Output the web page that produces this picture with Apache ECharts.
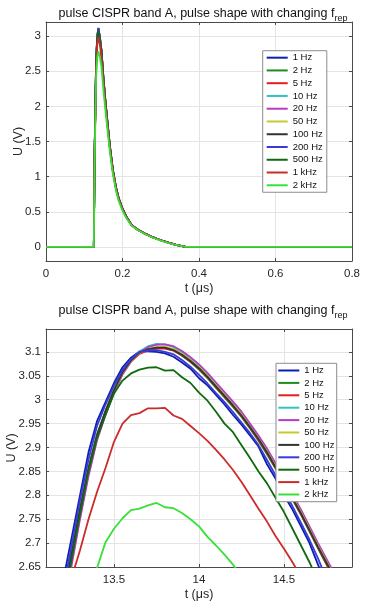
<!DOCTYPE html>
<html><head><meta charset="utf-8">
<script src="https://cdn.jsdelivr.net/npm/echarts@6/dist/echarts.min.js"></script>
<style>html,body{margin:0;padding:0;background:#fff}#c{width:378px;height:603px}</style>
</head><body><div id="c"></div>
<script>
// ---------- legend / series identity ----------
const seriesNames = ['1 Hz','2 Hz','5 Hz','10 Hz','20 Hz','50 Hz','100 Hz','200 Hz','500 Hz','1 kHz','2 kHz'];
const seriesColors = ['#0b1fb0','#1f8a1f','#e41e1e','#2ec4c4','#b93bc4','#c8c832','#333333','#3a3ad8','#0f6a0f','#cc2b2b','#38e038'];

// ---------- top plot (full pulse) ----------
const topTime = [0,0.05,0.1,0.125,0.127,0.131,0.134,0.137,0.141,0.145,0.15,0.155,0.16,0.167,0.175,0.183,0.19,0.2,0.21,0.224,0.24,0.26,0.28,0.3,0.32,0.34,0.365,0.4,0.5,0.6,0.7,0.8];
const top1Hz   = [0,0,0,0,1.30,2.62,2.98,3.100,2.96,2.78,2.40,2.08,1.80,1.42,1.08,0.84,0.69,0.54,0.43,0.31,0.245,0.185,0.135,0.095,0.06,0.03,0.002,0,0,0,0,0];
const top2Hz   = [0,0,0,0,1.31,2.63,2.99,3.108,2.97,2.79,2.41,2.09,1.81,1.43,1.09,0.845,0.69,0.545,0.43,0.31,0.245,0.185,0.135,0.095,0.06,0.03,0.002,0,0,0,0,0];
const top5Hz   = [0,0,0,0,1.29,2.61,2.98,3.107,2.97,2.79,2.41,2.09,1.81,1.43,1.09,0.845,0.69,0.545,0.43,0.31,0.245,0.185,0.135,0.095,0.06,0.03,0.002,0,0,0,0,0];
const top10Hz  = [0,0,0,0,1.31,2.64,3.00,3.117,2.98,2.80,2.42,2.10,1.82,1.44,1.09,0.85,0.695,0.545,0.435,0.31,0.245,0.185,0.135,0.095,0.06,0.03,0.002,0,0,0,0,0];
const top20Hz  = [0,0,0,0,1.30,2.63,3.00,3.116,2.98,2.80,2.42,2.10,1.82,1.44,1.10,0.85,0.695,0.55,0.435,0.315,0.25,0.19,0.135,0.095,0.06,0.03,0.002,0,0,0,0,0];
const top50Hz  = [0,0,0,0,1.31,2.63,2.99,3.110,2.97,2.79,2.41,2.09,1.81,1.43,1.09,0.845,0.69,0.545,0.43,0.31,0.245,0.185,0.135,0.095,0.06,0.03,0.002,0,0,0,0,0];
const top100Hz = [0,0,0,0,1.31,2.63,2.99,3.109,2.97,2.79,2.41,2.09,1.81,1.43,1.09,0.845,0.69,0.545,0.43,0.31,0.245,0.185,0.135,0.095,0.06,0.03,0.002,0,0,0,0,0];
const top200Hz = [0,0,0,0,1.30,2.62,2.98,3.104,2.96,2.78,2.40,2.08,1.80,1.42,1.08,0.84,0.69,0.54,0.43,0.31,0.245,0.185,0.135,0.095,0.06,0.03,0.002,0,0,0,0,0];
const top500Hz = [0,0,0,0,1.28,2.58,2.95,3.068,2.94,2.76,2.38,2.07,1.79,1.42,1.08,0.84,0.685,0.54,0.43,0.31,0.245,0.185,0.135,0.095,0.06,0.03,0.002,0,0,0,0,0];
const top1kHz  = [0,0,0,0,1.25,2.52,2.88,2.983,2.87,2.70,2.34,2.04,1.77,1.40,1.07,0.83,0.68,0.535,0.425,0.305,0.245,0.185,0.135,0.095,0.06,0.03,0.002,0,0,0,0,0];
const top2kHz  = [0,0,0,0,1.18,2.40,2.70,2.784,2.70,2.56,2.24,1.96,1.70,1.35,1.03,0.80,0.655,0.515,0.41,0.30,0.24,0.18,0.13,0.09,0.055,0.028,0,0,0,0,0,0];
const topSeries = [top1Hz,top2Hz,top5Hz,top10Hz,top20Hz,top50Hz,top100Hz,top200Hz,top500Hz,top1kHz,top2kHz];
const topXTicks = [0,0.2,0.4,0.6,0.8];
const topYTicks = [0,0.5,1,1.5,2,2.5,3];

// ---------- bottom plot (peak detail) ----------
const botTime = [13.15,13.2,13.25,13.3,13.35,13.4,13.45,13.5,13.55,13.6,13.65,13.7,13.75,13.8,13.85,13.9,13.95,14.0,14.05,14.1,14.15,14.2,14.25,14.3,14.35,14.4,14.45,14.5,14.55,14.6,14.65,14.7,14.75,14.8,14.85];
const bot1Hz   = [2.55,2.62,2.71,2.80,2.89,2.955,2.995,3.035,3.068,3.088,3.101,3.101,3.100,3.097,3.090,3.078,3.065,3.045,3.030,3.010,2.990,2.968,2.948,2.925,2.902,2.865,2.835,2.800,2.770,2.735,2.700,2.655,2.610,2.570,2.530];
const bot2Hz   = [2.505,2.59,2.68,2.772,2.857,2.927,2.977,3.021,3.057,3.082,3.098,3.105,3.108,3.108,3.103,3.092,3.079,3.063,3.045,3.025,3.005,2.985,2.964,2.940,2.914,2.886,2.856,2.824,2.791,2.759,2.724,2.689,2.655,2.621,2.585];
const bot5Hz   = [2.48,2.57,2.66,2.755,2.845,2.918,2.970,3.016,3.054,3.080,3.096,3.103,3.107,3.107,3.103,3.093,3.080,3.065,3.047,3.027,3.007,2.987,2.966,2.942,2.916,2.889,2.858,2.826,2.793,2.761,2.726,2.691,2.657,2.622,2.585];
const bot10Hz  = [2.49,2.578,2.668,2.764,2.850,2.922,2.973,3.018,3.057,3.083,3.101,3.112,3.117,3.116,3.110,3.099,3.085,3.070,3.052,3.032,3.012,2.992,2.972,2.947,2.922,2.895,2.864,2.832,2.799,2.767,2.732,2.697,2.664,2.630,2.592];
const bot20Hz  = [2.47,2.56,2.652,2.750,2.840,2.915,2.968,3.014,3.053,3.080,3.099,3.110,3.115,3.116,3.112,3.102,3.089,3.074,3.056,3.036,3.016,2.996,2.975,2.950,2.925,2.898,2.867,2.835,2.802,2.770,2.735,2.700,2.667,2.634,2.596];
const bot50Hz  = [2.495,2.582,2.672,2.768,2.853,2.924,2.974,3.019,3.056,3.081,3.098,3.106,3.110,3.111,3.106,3.096,3.083,3.068,3.050,3.030,3.010,2.990,2.969,2.944,2.919,2.892,2.861,2.829,2.796,2.764,2.729,2.694,2.661,2.627,2.590];
const bot100Hz = [2.50,2.586,2.676,2.771,2.856,2.926,2.976,3.020,3.057,3.082,3.099,3.106,3.109,3.109,3.104,3.094,3.081,3.066,3.048,3.028,3.008,2.988,2.967,2.943,2.918,2.890,2.859,2.827,2.794,2.762,2.727,2.692,2.659,2.625,2.588];
const bot200Hz = [2.53,2.60,2.695,2.79,2.875,2.945,2.990,3.030,3.062,3.085,3.100,3.103,3.104,3.100,3.095,3.083,3.069,3.052,3.034,3.014,2.995,2.974,2.952,2.930,2.905,2.874,2.842,2.808,2.777,2.742,2.707,2.668,2.625,2.585,2.545];
const bot500Hz = [2.48,2.57,2.665,2.76,2.85,2.92,2.968,3.013,3.040,3.055,3.063,3.067,3.068,3.061,3.062,3.047,3.035,3.015,2.998,2.975,2.950,2.932,2.905,2.878,2.850,2.825,2.795,2.765,2.730,2.695,2.660,2.620,2.580,2.540,2.500];
const bot1kHz  = [2.51,2.57,2.627,2.685,2.75,2.807,2.857,2.912,2.950,2.968,2.972,2.982,2.982,2.983,2.967,2.960,2.945,2.930,2.914,2.895,2.875,2.853,2.828,2.800,2.772,2.745,2.715,2.688,2.660,2.630,2.600,2.570,2.540,2.510,2.480];
const bot2kHz  = [2.30,2.36,2.42,2.48,2.59,2.648,2.702,2.730,2.752,2.769,2.772,2.779,2.784,2.775,2.773,2.763,2.750,2.735,2.713,2.695,2.676,2.655,2.630,2.600,2.570,2.540,2.510,2.480,2.450,2.420,2.390,2.360,2.330,2.300,2.270];
const botSeries = [bot1Hz,bot2Hz,bot5Hz,bot10Hz,bot20Hz,bot50Hz,bot100Hz,bot200Hz,bot500Hz,bot1kHz,bot2kHz];
const botXTicks = [13.5,14,14.5];
const botYTicks = [2.65,2.7,2.75,2.8,2.85,2.9,2.95,3,3.05,3.1];

// ---------- styling ----------
const FONT = '"Liberation Sans", Arial, sans-serif';
const TXT = '#262626';
const AXC = '#4a4a4a';
const GRIDC = '#e4e4e4';
const fmt = v => String(parseFloat((+v).toFixed(3)));

function mainAxis(kind, grid, pos, min, max, ticks, name, nameGap) {
  return {
    type: 'value', gridIndex: grid, position: pos, min: min, max: max,
    name: name, nameLocation: 'middle', nameGap: nameGap, nameMoveOverlap: false,
    nameTextStyle: {fontFamily: FONT, fontSize: 12.5, color: TXT},
    axisLine: {show: true, onZero: false, lineStyle: {color: AXC, width: 1}},
    axisTick: {show: true, inside: true, length: 3, customValues: ticks, lineStyle: {color: AXC}},
    axisLabel: {show: true, customValues: ticks, formatter: fmt, margin: kind === 'x' ? 7 : 5,
      fontFamily: FONT, fontSize: 11.5, color: TXT, showMinLabel: true, showMaxLabel: true},
    splitLine: {show: true, lineStyle: {color: GRIDC, width: 1}}
  };
}
function mirrorAxis(grid, pos, min, max, ticks) {
  return {
    type: 'value', gridIndex: grid, position: pos, min: min, max: max,
    axisLine: {show: true, onZero: false, lineStyle: {color: AXC, width: 1}},
    axisTick: {show: true, inside: true, length: 3, customValues: ticks, lineStyle: {color: AXC}},
    axisLabel: {show: false},
    splitLine: {show: false}
  };
}

const series = [];
seriesNames.forEach((n, i) => {
  series.push({
    name: n, type: 'line', xAxisIndex: 0, yAxisIndex: 0, showSymbol: false, symbol: 'none',
    data: topTime.map((t, k) => [t, topSeries[i][k]]),
    lineStyle: {width: 1.8, color: seriesColors[i]}, itemStyle: {color: seriesColors[i]},
    animation: false, clip: true
  });
});
seriesNames.forEach((n, i) => {
  series.push({
    name: n, type: 'line', xAxisIndex: 2, yAxisIndex: 2, showSymbol: false, symbol: 'none',
    data: botTime.map((t, k) => [t, botSeries[i][k]]),
    lineStyle: {width: 1.8, color: seriesColors[i]}, itemStyle: {color: seriesColors[i]},
    animation: false, clip: true
  });
});

function legend(left, top, padding, lh) {
  return {
    orient: 'vertical', left: left, top: top, padding: padding,
    itemWidth: 21, itemHeight: 2, itemGap: 0, icon: 'rect',
    backgroundColor: '#fff', borderColor: '#8c8c8c', borderWidth: 1, borderRadius: 0,
    selectedMode: false,
    textStyle: {fontFamily: FONT, fontSize: 9.5, color: '#111', lineHeight: lh},
    data: seriesNames
  };
}

const titleRich = {
  m: {fontFamily: FONT, fontSize: 12.5, fontWeight: 'normal', color: '#111', lineHeight: 15},
  s: {fontFamily: FONT, fontSize: 9, fontWeight: 'normal', color: '#111', padding: [9, 0, 0, 0]}
};
const titleText = '{m|pulse CISPR band A, pulse shape with changing f}{s|rep}';

const option = {
  backgroundColor: '#fff',
  animation: false,
  title: [
    {text: titleText, left: 203, top: 5, textAlign: 'center', padding: 0,
     textStyle: {fontWeight: 'normal', fontSize: 12.5, rich: titleRich}},
    {text: titleText, left: 203, top: 302, textAlign: 'center', padding: 0,
     textStyle: {fontWeight: 'normal', fontSize: 12.5, rich: titleRich}}
  ],
  grid: [
    {left: 46, top: 22, width: 306, height: 239, containLabel: false, outerBoundsMode: 'none'},
    {left: 46, top: 329, width: 306, height: 238, containLabel: false, outerBoundsMode: 'none'}
  ],
  xAxis: [
    mainAxis('x', 0, 'bottom', 0, 0.8, topXTicks, 't (\u03bcs)', 21),
    mirrorAxis(0, 'top', 0, 0.8, topXTicks),
    mainAxis('x', 1, 'bottom', 13.1, 14.9, botXTicks, 't (\u03bcs)', 21),
    mirrorAxis(1, 'top', 13.1, 14.9, botXTicks)
  ],
  yAxis: [
    mainAxis('y', 0, 'left', -0.2, 3.2, topYTicks, 'U (V)', 21),
    mirrorAxis(0, 'right', -0.2, 3.2, topYTicks),
    mainAxis('y', 1, 'left', 2.65, 3.148, botYTicks, 'U (V)', 28),
    mirrorAxis(1, 'right', 2.65, 3.148, botYTicks)
  ],
  legend: [
    legend(262.7, 50.7, [0.6, 4, 0.6, 4], 12.76),
    legend(276, 363.3, [1, 2.3, 1, 2.3], 12.4)
  ],
  series: series
};

const chart = echarts.init(document.getElementById('c'), null, {renderer: 'canvas'});
chart.setOption(option);
</script>
</body></html>
